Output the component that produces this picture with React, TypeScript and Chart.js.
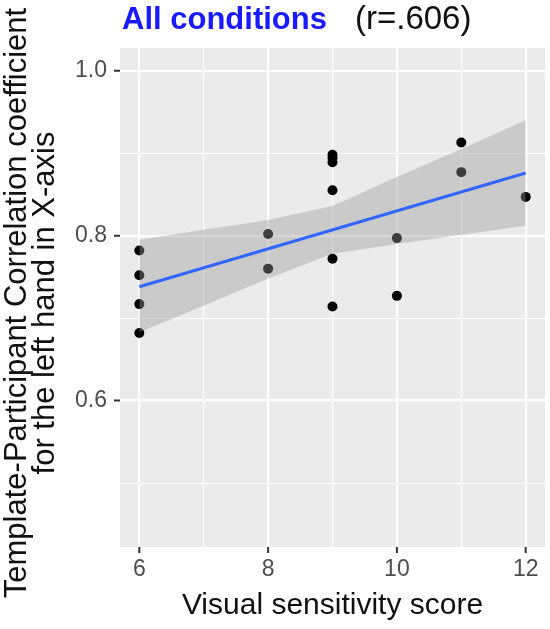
import { useEffect, useRef } from 'react';
import { Chart, registerables, Plugin } from 'chart.js';

Chart.register(...registerables);

// scatter points
const pointX = [6, 6, 6, 6, 8, 8, 9, 9, 9, 9, 9, 9, 10, 10, 11, 11, 12];
const pointY = [0.782, 0.752, 0.717, 0.682, 0.802, 0.760, 0.898, 0.894, 0.889, 0.855, 0.772, 0.714, 0.797, 0.727, 0.913, 0.877, 0.847];

// fitted line and its confidence band
const fitX = [6, 12];
const fitY = [0.738, 0.876];
const bandX = [6, 7, 8, 9, 10, 11, 12];
const bandUpper = [0.795, 0.807, 0.819, 0.836, 0.871, 0.905, 0.940];
const bandLower = [0.683, 0.715, 0.748, 0.778, 0.790, 0.801, 0.812];

const xMajorTicks = [6, 8, 10, 12];
const xMinorTicks = [7, 9, 11];
const yMajorTicks = [0.6, 0.8, 1.0];
const yMinorTicks = [0.5, 0.7, 0.9];

const yTitleLines = ['Template-Participant Correlation coefficient', 'for the left hand in X-axis'];

const FONT = '"Liberation Sans", Arial, sans-serif';
const TICK_LEN = 6;

const isMajor = (list: number[], v: number) => list.some((m) => Math.abs(m - v) < 1e-6);

const panelBackground: Plugin = {
  id: 'panelBackground',
  beforeDraw(chart) {
    const { ctx, chartArea } = chart;
    ctx.save();
    ctx.fillStyle = '#ebebeb';
    ctx.fillRect(chartArea.left, chartArea.top, chartArea.right - chartArea.left, chartArea.bottom - chartArea.top);
    ctx.restore();
  },
};

// ggplot-style outside tick marks on the major breaks
const axisTicks: Plugin = {
  id: 'axisTicks',
  afterDraw(chart) {
    const { ctx, chartArea, scales } = chart;
    ctx.save();
    ctx.strokeStyle = '#333333';
    ctx.lineWidth = 2;
    ctx.beginPath();
    xMajorTicks.forEach((v) => {
      const px = scales.x.getPixelForValue(v);
      ctx.moveTo(px, chartArea.bottom);
      ctx.lineTo(px, chartArea.bottom + TICK_LEN);
    });
    yMajorTicks.forEach((v) => {
      const py = scales.y.getPixelForValue(v);
      ctx.moveTo(chartArea.left - TICK_LEN, py);
      ctx.lineTo(chartArea.left, py);
    });
    ctx.stroke();
    ctx.restore();
  },
};

// title in two colours, and the rotated two-line y title
const plotTexts: Plugin = {
  id: 'plotTexts',
  afterDraw(chart) {
    const { ctx } = chart;
    ctx.save();
    ctx.textBaseline = 'alphabetic';
    ctx.textAlign = 'left';
    ctx.font = `bold 31px ${FONT}`;
    ctx.fillStyle = '#1a1aff';
    ctx.fillText('All conditions', 122, 29);
    ctx.font = `33px ${FONT}`;
    ctx.fillStyle = '#111';
    ctx.fillText('(r=.606)', 355, 29);

    ctx.translate(0, 303);
    ctx.rotate(-Math.PI / 2);
    ctx.textAlign = 'center';
    ctx.textBaseline = 'middle';
    ctx.font = `31px ${FONT}`;
    yTitleLines.forEach((line, i) => {
      ctx.fillText(line, 0, 17 + i * 28.5);
    });
    ctx.restore();
  },
};

export default function App() {
  const canvasRef = useRef<HTMLCanvasElement>(null);
  const chartRef = useRef<Chart | null>(null);

  useEffect(() => {
    document.body.style.margin = '0';
    if (!canvasRef.current) return;
    if (chartRef.current) chartRef.current.destroy();

    chartRef.current = new Chart(canvasRef.current, {
      type: 'scatter',
      data: {
        datasets: [
          {
            type: 'scatter',
            data: pointX.map((x, i) => ({ x, y: pointY[i] })),
            backgroundColor: '#000',
            borderWidth: 0,
            pointRadius: 5,
            order: 3,
          },
          {
            type: 'line',
            data: bandX.map((x, i) => ({ x, y: bandUpper[i] })),
            borderWidth: 0,
            borderColor: 'rgba(0,0,0,0)',
            backgroundColor: 'rgba(153,153,153,0.4)',
            pointRadius: 0,
            fill: '+1',
            order: 2,
          },
          {
            type: 'line',
            data: bandX.map((x, i) => ({ x, y: bandLower[i] })),
            borderWidth: 0,
            borderColor: 'rgba(0,0,0,0)',
            pointRadius: 0,
            fill: false,
            order: 2,
          },
          {
            type: 'line',
            data: fitX.map((x, i) => ({ x, y: fitY[i] })),
            borderColor: '#3366ff',
            borderWidth: 3,
            pointRadius: 0,
            fill: false,
            order: 1,
          },
        ],
      },
      options: {
        animation: false,
        responsive: true,
        maintainAspectRatio: false,
        layout: { padding: { top: 48, right: 2, left: 0, bottom: 0 } },
        plugins: {
          legend: { display: false },
          tooltip: { enabled: false },
        },
        scales: {
          x: {
            type: 'linear',
            min: 5.7,
            max: 12.3,
            afterBuildTicks: (scale) => {
              scale.ticks = [...xMajorTicks, ...xMinorTicks].sort((a, b) => a - b).map((value) => ({ value }));
            },
            afterFit: (scale) => {
              scale.height = 82;
            },
            border: { display: false },
            grid: {
              color: '#ffffff',
              lineWidth: (ctx) => (isMajor(xMajorTicks, ctx.tick.value) ? 2.2 : 1.1),
              tickColor: 'rgba(0,0,0,0)',
              tickLength: TICK_LEN,
            },
            ticks: {
              color: '#4d4d4d',
              font: { family: FONT, size: 23 },
              padding: 3,
              maxRotation: 0,
              autoSkip: false,
              callback: (v) => (isMajor(xMajorTicks, Number(v)) ? String(v) : ''),
            },
            title: {
              display: true,
              text: 'Visual sensitivity score',
              color: '#111',
              font: { family: FONT, size: 30 },
              padding: { top: 0, bottom: 5 },
            },
          },
          y: {
            type: 'linear',
            min: 0.4225,
            max: 1.0275,
            afterBuildTicks: (scale) => {
              scale.ticks = [...yMajorTicks, ...yMinorTicks].sort((a, b) => a - b).map((value) => ({ value }));
            },
            afterFit: (scale) => {
              scale.width = 120;
            },
            border: { display: false },
            grid: {
              color: '#ffffff',
              lineWidth: (ctx) => (isMajor(yMajorTicks, ctx.tick.value) ? 2.2 : 1.1),
              tickColor: 'rgba(0,0,0,0)',
              tickLength: TICK_LEN,
            },
            ticks: {
              color: '#4d4d4d',
              font: { family: FONT, size: 23 },
              padding: 7,
              autoSkip: false,
              callback: (v) => (isMajor(yMajorTicks, Number(v)) ? Number(v).toFixed(1) : ''),
            },
          },
        },
      },
      plugins: [panelBackground, axisTicks, plotTexts],
    });

    return () => {
      if (chartRef.current) {
        chartRef.current.destroy();
        chartRef.current = null;
      }
    };
  }, []);

  return (
    <div style={{ width: 550, height: 629, position: 'relative' }}>
      <canvas ref={canvasRef}></canvas>
    </div>
  );
}
